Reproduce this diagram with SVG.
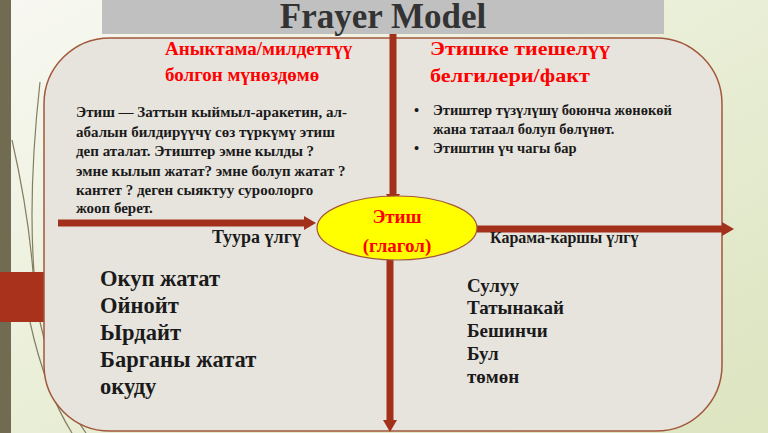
<svg xmlns="http://www.w3.org/2000/svg" width="768" height="433" viewBox="0 0 768 433">
<defs>
<linearGradient id="bg" x1="0" y1="0" x2="1" y2="1">
<stop offset="0" stop-color="#f8f8f2"/>
<stop offset="0.5" stop-color="#e9eed6"/>
<stop offset="1" stop-color="#dce4c0"/>
</linearGradient>
<marker id="ah" markerUnits="userSpaceOnUse" markerWidth="14" markerHeight="16" refX="2" refY="8" orient="auto" viewBox="0 0 14 16">
<path d="M0,1 L12,8 L0,15 Z" fill="#a3301a"/>
</marker>
<style>
.conn{stroke:#a3301a;stroke-width:7;fill:none}
.grass{stroke:#857d60;stroke-width:1.2;fill:none}
.hd{font-family:"Liberation Serif","Times New Roman",serif;font-weight:bold;fill:#ff0000;font-size:19px}
.tx{font-family:"Liberation Serif","Times New Roman",serif;font-weight:bold;fill:#1a1a1a}
</style>
</defs>
<rect x="0" y="0" width="768" height="433" fill="url(#bg)"/>
<rect x="0" y="0" width="11" height="433" fill="#716b51"/>
<g id="grass">
<path class="grass" d="M40,82 Q28,190 34,272"/>
<path class="grass" d="M12,140 Q28,210 33,272"/>
<path class="grass" d="M30,322 Q45,390 72,433"/>
<path class="grass" d="M40,322 Q55,390 86,433"/>
</g>
<rect x="0" y="272" width="44" height="50" fill="#a8321c"/>
<rect id="titlebar" x="102" y="0" width="562" height="34" fill="#c0c0c0"/>
<text x="383" y="28" text-anchor="middle" font-family="Liberation Serif,serif" font-weight="bold" font-size="35" fill="#333333">Frayer Model</text>
<rect id="frame" x="44" y="38" width="678" height="393" rx="66" ry="66" fill="#e7e4de" stroke="#a2573b" stroke-width="1.5"/>
<g id="connectors">
<line class="conn" x1="393" y1="34" x2="393" y2="196" marker-end="url(#ah)"/>
<line class="conn" x1="390" y1="260" x2="390" y2="422" marker-end="url(#ah)"/>
<line class="conn" x1="58" y1="223" x2="306" y2="223" marker-end="url(#ah)"/>
<line class="conn" x1="476" y1="229" x2="724" y2="229" marker-end="url(#ah)"/>
</g>
<g id="definition">
<text class="hd" x="165" y="55">Аныктама/милдеттүү</text>
<text class="hd" x="165" y="81">болгон мүнөздөмө</text>
<text class="tx" font-size="15"><tspan x="76" y="117">Этиш — Заттын кыймыл-аракетин, ал-</tspan><tspan x="76" y="137">абалын билдирүүчү сөз түркүмү этиш</tspan><tspan x="76" y="156">деп аталат. Этиштер эмне кылды ?</tspan><tspan x="76" y="176">эмне кылып жатат? эмне болуп жатат ?</tspan><tspan x="76" y="195">кантет ? деген сыяктуу суроолорго</tspan><tspan x="76" y="213">жооп берет.</tspan></text>
</g>
<g id="facts">
<text class="hd" x="430" y="55" font-size="21" textLength="180" lengthAdjust="spacingAndGlyphs">Этишке тиешелүү</text>
<text class="hd" x="430" y="82" font-size="21" textLength="160" lengthAdjust="spacingAndGlyphs">белгилери/факт</text>
<text class="tx" font-size="14.5"><tspan x="414" y="115">•</tspan><tspan x="433" y="115">Этиштер түзүлүшү боюнча  жөнөкөй</tspan><tspan x="433" y="134">жана татаал болуп бөлүнөт.</tspan><tspan x="414" y="153">•</tspan><tspan x="433" y="153">Этиштин үч чагы бар</tspan></text>
</g>
<g id="examples">
<text class="tx" x="212" y="243" font-size="18">Туура үлгү</text>
<text class="tx" font-size="22.5"><tspan x="100" y="286">Окуп жатат</tspan><tspan x="100" y="313">Ойнойт</tspan><tspan x="100" y="340">Ырдайт</tspan><tspan x="100" y="367">Барганы жатат</tspan><tspan x="100" y="394">окуду</tspan></text>
</g>
<g id="nonexamples">
<text class="tx" x="490" y="243" font-size="16">Карама-каршы үлгү</text>
<text class="tx" font-size="19"><tspan x="467" y="292">Сулуу</tspan><tspan x="467" y="314">Татынакай</tspan><tspan x="467" y="337">Бешинчи</tspan><tspan x="467" y="360">Бул</tspan><tspan x="467" y="383">төмөн</tspan></text>
</g>
<g id="center">
<ellipse cx="397" cy="228" rx="80" ry="32" fill="#ffff00" stroke="#a2573b" stroke-width="1.2"/>
<text x="397" y="223" text-anchor="middle" class="hd" font-size="22">Этиш</text>
<text x="397" y="252" text-anchor="middle" class="hd" font-size="22">(глагол)</text>
</g>
</svg>
